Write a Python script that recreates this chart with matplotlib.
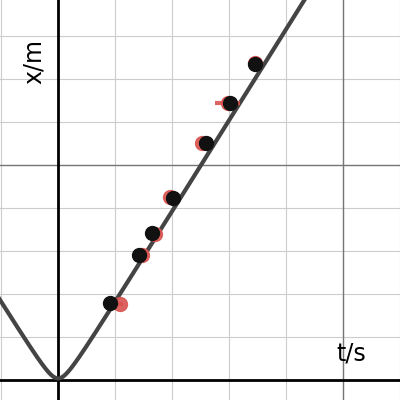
import numpy as np
import matplotlib
matplotlib.use('Agg')
import matplotlib.pyplot as plt

# black measured points (t, x) in grid units
t_black = [0.91, 1.42, 1.65, 2.02, 2.60, 3.02, 3.46]
x_black = [1.79, 2.91, 3.42, 4.23, 5.51, 6.44, 7.35]
# red points
t_red = [1.09, 1.47, 1.70, 1.97, 2.53, 2.98, 3.46]
x_red = [1.77, 2.91, 3.40, 4.25, 5.51, 6.44, 7.37]
t_err = [0.05, 0.10, 0.10, 0.05, 0.05, 0.22, 0.05]
slope = 2.12

fig = plt.figure(figsize=(4, 4), dpi=100)
ax = fig.add_axes([0, 0, 1, 1])
ax.set_xlim(-1.02, 6.0)
ax.set_ylim(-0.465, 8.84)

for v in range(-1, 7):
    ax.axvline(v, color='#cccccc', lw=0.8, zorder=0)
for v in range(0, 10):
    ax.axhline(v, color='#cccccc', lw=0.8, zorder=0)
ax.axvline(5, color='#777777', lw=1, zorder=0)
ax.axhline(5, color='#777777', lw=1, zorder=0)
ax.axvline(0, color='black', lw=2, zorder=1)
ax.axhline(0, color='black', lw=2, zorder=1)

tt = np.linspace(-1.1, 6, 600)
ax.plot(tt, slope * np.sqrt(tt ** 2 + 0.03) - 0.33, color='#444444', lw=3, zorder=2)

ax.errorbar(t_red, x_red, xerr=t_err, fmt='o', color='#d9534f', ms=10,
            elinewidth=3, capsize=0, alpha=0.9, zorder=3)
ax.plot(t_black, x_black, 'o', color='#111111', ms=10, zorder=4)

ax.text(-0.42, 7.4, 'x/m', rotation=90, fontsize=17, ha='center', va='center')
ax.text(5.15, 0.62, 't/s', fontsize=17, ha='center', va='center')
ax.set_xticks([])
ax.set_yticks([])
for s in ax.spines.values():
    s.set_visible(False)
fig.savefig('out.png', dpi=100)
